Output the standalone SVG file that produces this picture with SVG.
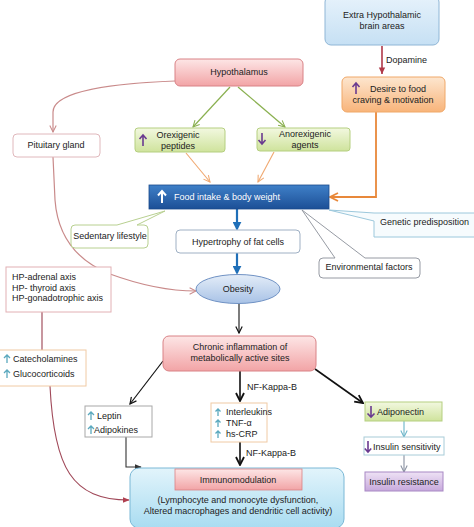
<svg xmlns="http://www.w3.org/2000/svg" width="474" height="527" viewBox="0 0 474 527">
<defs>
<linearGradient id="gPink" x1="0" y1="0" x2="0" y2="1"><stop offset="0" stop-color="#fde6e6"/><stop offset="1" stop-color="#f2a4a6"/></linearGradient>
<linearGradient id="gBlueL" x1="0" y1="0" x2="0" y2="1"><stop offset="0" stop-color="#e6f2fb"/><stop offset="1" stop-color="#c6e0f4"/></linearGradient>
<linearGradient id="gOrange" x1="0" y1="0" x2="0" y2="1"><stop offset="0" stop-color="#fde6cf"/><stop offset="1" stop-color="#f8b47a"/></linearGradient>
<linearGradient id="gGreen" x1="0" y1="0" x2="0" y2="1"><stop offset="0" stop-color="#f2f8e0"/><stop offset="1" stop-color="#cfe39c"/></linearGradient>
<linearGradient id="gFood" x1="0" y1="0" x2="0" y2="1"><stop offset="0" stop-color="#3f80c8"/><stop offset="1" stop-color="#1c4f96"/></linearGradient>
<linearGradient id="gObes" x1="0" y1="0" x2="0" y2="1"><stop offset="0" stop-color="#e4edf8"/><stop offset="1" stop-color="#a8c2e6"/></linearGradient>
<linearGradient id="gImm" x1="0" y1="0" x2="0" y2="1"><stop offset="0" stop-color="#e2f4fb"/><stop offset="1" stop-color="#a9dcf1"/></linearGradient>
<linearGradient id="gPurp" x1="0" y1="0" x2="0" y2="1"><stop offset="0" stop-color="#eee2f5"/><stop offset="1" stop-color="#c7a9dc"/></linearGradient>
<marker id="mRose" viewBox="0 0 10 10" refX="9" refY="5" markerWidth="8" markerHeight="8" orient="auto" markerUnits="userSpaceOnUse"><path d="M1,1 L9,5 L1,9" fill="none" stroke="#c98a8a" stroke-width="1.3"/></marker>
<marker id="mRed" viewBox="0 0 10 10" refX="9" refY="5" markerWidth="8" markerHeight="8" orient="auto" markerUnits="userSpaceOnUse"><path d="M1,1 L9,5 L1,9 Z" fill="#b03848"/></marker>
<marker id="mGreen" viewBox="0 0 10 10" refX="9" refY="5" markerWidth="8" markerHeight="8" orient="auto" markerUnits="userSpaceOnUse"><path d="M1,1 L9,5 L1,9" fill="none" stroke="#8ab050" stroke-width="1.3"/></marker>
<marker id="mOrangeT" viewBox="0 0 10 10" refX="9" refY="5" markerWidth="8" markerHeight="8" orient="auto" markerUnits="userSpaceOnUse"><path d="M1,1 L9,5 L1,9" fill="none" stroke="#f0a870" stroke-width="1.3"/></marker>
<marker id="mOrange" viewBox="0 0 10 10" refX="8" refY="5" markerWidth="10" markerHeight="10" orient="auto" markerUnits="userSpaceOnUse"><path d="M1,1 L9,5 L1,9" fill="none" stroke="#e8883a" stroke-width="1.8"/></marker>
<marker id="mBlue" viewBox="0 0 10 10" refX="8" refY="5" markerWidth="9" markerHeight="9" orient="auto" markerUnits="userSpaceOnUse"><path d="M0,0 L10,5 L0,10 Z" fill="#1f6fb8"/></marker>
<marker id="mBlack" viewBox="0 0 10 10" refX="9" refY="5" markerWidth="8" markerHeight="8" orient="auto" markerUnits="userSpaceOnUse"><path d="M1,1 L9,5 L1,9" fill="none" stroke="#111" stroke-width="1.5"/></marker>
<marker id="mBlackB" viewBox="0 0 10 10" refX="9" refY="5" markerWidth="10" markerHeight="10" orient="auto" markerUnits="userSpaceOnUse"><path d="M1,1 L9,5 L1,9" fill="none" stroke="#111" stroke-width="1.8"/></marker>
<marker id="mDark" viewBox="0 0 10 10" refX="9" refY="5" markerWidth="7" markerHeight="7" orient="auto" markerUnits="userSpaceOnUse"><path d="M0,1 L10,5 L0,9 Z" fill="#333"/></marker>
<marker id="mTeal" viewBox="0 0 10 10" refX="9" refY="5" markerWidth="8" markerHeight="8" orient="auto" markerUnits="userSpaceOnUse"><path d="M1,1 L9,5 L1,9" fill="none" stroke="#6ab4c8" stroke-width="1.3"/></marker>
<marker id="mGray" viewBox="0 0 10 10" refX="9" refY="5" markerWidth="8" markerHeight="8" orient="auto" markerUnits="userSpaceOnUse"><path d="M1,1 L9,5 L1,9" fill="none" stroke="#8890a0" stroke-width="1.3"/></marker>
<marker id="mDRose" viewBox="0 0 10 10" refX="9" refY="5" markerWidth="7" markerHeight="7" orient="auto" markerUnits="userSpaceOnUse"><path d="M0,1 L10,5 L0,9 Z" fill="#b04050"/></marker>
</defs>
<style>
text{font-family:"Liberation Sans",Arial,sans-serif;font-size:9px;fill:#222;}
.c{text-anchor:middle;}
.w{fill:#fff;}
.upP{fill:none;stroke:#6a3a90;stroke-width:1.6;}
.upT{fill:none;stroke:#5aa8be;stroke-width:1.3;}
</style>
<rect width="474" height="527" fill="#fff"/>

<g id="connectors" fill="none">
<path d="M175,81 C120,83 53,90 53,112 L53,132" stroke="#c98a8a" stroke-width="1.2" marker-end="url(#mRose)"/>
<path d="M53,157 L55,200 C58,240 80,262 110,274 C140,285 170,291 196,291" stroke="#c98a8a" stroke-width="1.2" marker-end="url(#mRose)"/>
<path d="M382,46 L382,74" stroke="#b03848" stroke-width="1.6" marker-end="url(#mRed)"/>
<path d="M230,87 L193,127" stroke="#8ab050" stroke-width="1.2" marker-end="url(#mGreen)"/>
<path d="M238,87 L285,127" stroke="#8ab050" stroke-width="1.2" marker-end="url(#mGreen)"/>
<path d="M186,153 L210,182" stroke="#f0a870" stroke-width="1.1" marker-end="url(#mOrangeT)"/>
<path d="M274,152 L258,182" stroke="#f0a870" stroke-width="1.1" marker-end="url(#mOrangeT)"/>
<path d="M376,112 L376,197 L331,197" stroke="#e8883a" stroke-width="1.8" marker-end="url(#mOrange)"/>
<path d="M237,209 L237,229" stroke="#1f6fb8" stroke-width="2.2" marker-end="url(#mBlue)"/>
<path d="M237,253 L237,273" stroke="#1f6fb8" stroke-width="2.2" marker-end="url(#mBlue)"/>
<path d="M239,303 L239,333" stroke="#111" stroke-width="1.1" marker-end="url(#mBlack)"/>
<path d="M240,371 L240,401" stroke="#111" stroke-width="1.6" marker-end="url(#mBlackB)"/>
<path d="M163,361 L130,404" stroke="#111" stroke-width="1.2" marker-end="url(#mBlack)"/>
<path d="M315,369 L363,403" stroke="#111" stroke-width="1.6" marker-end="url(#mBlackB)"/>
<path d="M240,442 L240,465" stroke="#111" stroke-width="1.6" marker-end="url(#mBlackB)"/>
<path d="M126,437 L126,467 L141,467" stroke="#333" stroke-width="1.1" marker-end="url(#mDark)"/>
<path d="M42,312 L42,350" stroke="#9a4050" stroke-width="1.1"/>
<path d="M50,386 C54,468 72,500 129,500" stroke="#a04858" stroke-width="1.1" marker-end="url(#mDRose)"/>
<path d="M404,421 L404,437" stroke="#6ab4c8" stroke-width="1.1" marker-end="url(#mTeal)"/>
<path d="M404,455 L404,472" stroke="#8890a0" stroke-width="1.1" marker-end="url(#mGray)"/>
</g>

<g id="extra-hypothalamic">
<rect x="325" y="-4" width="114" height="49" rx="6" fill="url(#gBlueL)" stroke="#8fb6d6" stroke-width="1"/>
<text x="382" y="18" class="c">Extra Hypothalamic</text>
<text x="382" y="29" class="c">brain areas</text>
</g>
<text x="386" y="63">Dopamine</text>

<g id="desire">
<rect x="342" y="77" width="103" height="35" rx="5" fill="url(#gOrange)" stroke="#f0a868" stroke-width="1"/>
<path d="M356,94 L356,83 M352.5,87 L356,83 L359.5,87" class="upP"/>
<text x="398" y="92" class="c">Desire to food</text>
<text x="393" y="103" class="c">craving &amp; motivation</text>
</g>

<g id="hypothalamus">
<rect x="175" y="59" width="128" height="27" rx="5" fill="url(#gPink)" stroke="#d98286" stroke-width="1"/>
<text x="239" y="75" class="c">Hypothalamus</text>
</g>

<g id="pituitary">
<rect x="13" y="134" width="87" height="23" rx="4" fill="#fff" stroke="#e0b8bc" stroke-width="1"/>
<text x="56" y="148" class="c">Pituitary gland</text>
</g>

<g id="orexigenic">
<rect x="135" y="128" width="90" height="24" rx="3" fill="url(#gGreen)" stroke="#b5cf80" stroke-width="1"/>
<path d="M143,146 L143,135 M139.5,139 L143,135 L146.5,139" class="upP"/>
<text x="178" y="138" class="c">Orexigenic</text>
<text x="178" y="149" class="c">peptides</text>
</g>

<g id="anorexigenic">
<rect x="257" y="128" width="93" height="23" rx="3" fill="url(#gGreen)" stroke="#b5cf80" stroke-width="1"/>
<path d="M262,133 L262,144 M258.5,140 L262,144 L265.5,140" class="upP"/>
<text x="305" y="137" class="c">Anorexigenic</text>
<text x="305" y="148" class="c">agents</text>
</g>

<g id="food-intake">
<rect x="149" y="185" width="180" height="24" fill="url(#gFood)" stroke="#1a4a8c" stroke-width="0.8"/>
<path d="M162,203 L162,191 M158,195.5 L162,191 L166,195.5" fill="none" stroke="#fff" stroke-width="2"/>
<text x="174" y="200" class="w">Food intake &amp; body weight</text>
</g>

<g id="sedentary">
<path d="M75,225 L117,225 L165,211 L137,225 L144,225 Q148,225 148,229 L148,244 Q148,248 144,248 L75,248 Q71,248 71,244 L71,229 Q71,225 75,225 Z" fill="#fff" stroke="#b8d090" stroke-width="1"/>
<text x="110" y="239" class="c">Sedentary lifestyle</text>
</g>

<g id="genetic">
<path d="M374,213 L480,213 L480,237 L374,237 L374,221 L329,210 Z" fill="#f6fbfd" stroke="#9cc8dc" stroke-width="1"/>
<text x="380" y="225">Genetic predisposition</text>
</g>

<g id="environmental">
<path d="M323,258 L335,258 L302,210 L365,258 L416,258 Q420,258 420,262 L420,274 Q420,278 416,278 L323,278 Q319,278 319,274 L319,262 Q319,258 323,258 Z" fill="#fff" stroke="#8a8f98" stroke-width="0.9"/>
<text x="369" y="270" class="c">Environmental factors</text>
</g>

<g id="hypertrophy">
<rect x="176" y="230" width="124" height="23" rx="4" fill="#fff" stroke="#9fb0c4" stroke-width="1"/>
<text x="238" y="245" class="c">Hypertrophy of fat cells</text>
</g>

<g id="hp-axis">
<rect x="6" y="267" width="105" height="45" fill="#fff" stroke="#e2b0b4" stroke-width="1"/>
<text x="12" y="280">HP-adrenal axis</text>
<text x="12" y="291">HP- thyroid axis</text>
<text x="12" y="301">HP-gonadotrophic axis</text>
</g>

<g id="obesity">
<ellipse cx="238" cy="289" rx="42" ry="14.5" fill="url(#gObes)" stroke="#7092c4" stroke-width="1"/>
<text x="238" y="292" class="c">Obesity</text>
</g>

<g id="catecholamines">
<rect x="-2" y="350" width="88" height="36" fill="#fff" stroke="#f0caa4" stroke-width="1"/>
<path d="M7,363 L7,355 M4,358 L7,355 L10,358" class="upT"/>
<path d="M7,378 L7,370 M4,373 L7,370 L10,373" class="upT"/>
<text x="13" y="362">Catecholamines</text>
<text x="13" y="377">Glucocorticoids</text>
</g>

<g id="chronic">
<rect x="163" y="336" width="153" height="35" rx="6" fill="url(#gPink)" stroke="#d98286" stroke-width="1"/>
<text x="240" y="350" class="c">Chronic inflammation of</text>
<text x="240" y="361" class="c">metabolically active sites</text>
</g>
<text x="247" y="390">NF-Kappa-B</text>

<g id="leptin">
<rect x="85" y="406" width="67" height="31" fill="#fff" stroke="#a8a8a8" stroke-width="1"/>
<path d="M91,420 L91,412 M88,415 L91,412 L94,415" class="upT"/>
<path d="M91,434 L91,426 M88,429 L91,426 L94,429" class="upT"/>
<text x="97" y="419">Leptin</text>
<text x="94" y="433">Adipokines</text>
</g>

<g id="interleukins">
<rect x="211" y="403" width="56" height="39" fill="#fff" stroke="#f0caa4" stroke-width="1"/>
<path d="M218,416 L218,409 M215.5,411.5 L218,409 L220.5,411.5" class="upT"/>
<path d="M218,427 L218,420 M215.5,422.5 L218,420 L220.5,422.5" class="upT"/>
<path d="M218,438 L218,431 M215.5,433.5 L218,431 L220.5,433.5" class="upT"/>
<text x="226" y="415">Interleukins</text>
<text x="226" y="426">TNF-α</text>
<text x="226" y="437">hs-CRP</text>
</g>
<text x="246" y="456">NF-Kappa-B</text>

<g id="immunomodulation">
<rect x="130" y="468" width="214" height="60" rx="9" fill="url(#gImm)" stroke="#7ab8d6" stroke-width="1"/>
<rect x="175" y="469" width="127" height="21" fill="url(#gPink)" stroke="#d98286" stroke-width="0.8"/>
<text x="238" y="483" class="c">Immunomodulation</text>
<text x="238" y="503" class="c">(Lymphocyte and monocyte dysfunction,</text>
<text x="238" y="514" class="c">Altered macrophages and dendritic cell activity)</text>
</g>

<g id="adiponectin">
<rect x="365" y="402" width="77" height="19" fill="url(#gGreen)" stroke="#b5cf80" stroke-width="1"/>
<path d="M371,406 L371,417 M367.5,413.5 L371,417 L374.5,413.5" class="upP"/>
<text x="377" y="415">Adiponectin</text>
</g>

<g id="insulin-sensitivity">
<rect x="364" y="437" width="80" height="18" fill="#fff" stroke="#a8ccd8" stroke-width="1"/>
<path d="M368,441 L368,452 M364.8,448.5 L368,452 L371.2,448.5" class="upP"/>
<text x="373" y="449.5">Insulin sensitivity</text>
</g>

<g id="insulin-resistance">
<rect x="365" y="472" width="78" height="19" fill="url(#gPurp)" stroke="#a888c4" stroke-width="1"/>
<text x="404" y="485" class="c">Insulin resistance</text>
</g>
</svg>
